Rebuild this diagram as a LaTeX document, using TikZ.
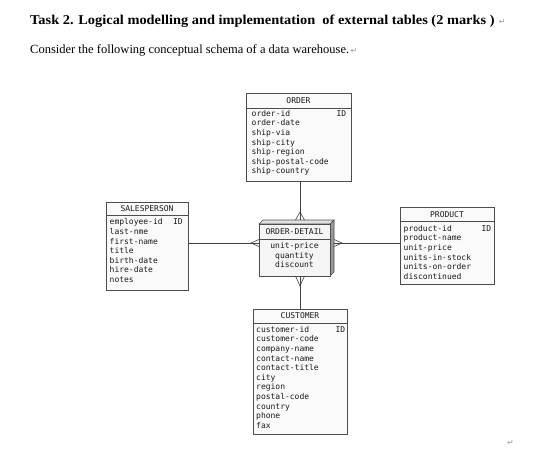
\documentclass[tikz,border=0pt]{standalone}
\usepackage{fontspec}
\setmainfont{Liberation Serif}
\newfontfamily\ermono{DejaVu Sans Mono}
\newfontfamily\ersym{DejaVu Sans}
\begin{document}
\begin{tikzpicture}[x=1pt,y=-1pt,
  entbox/.style={draw=black!70, fill=black!2, line width=0.7pt, inner sep=0pt},
  shade/.style={fill=black!45},
  hdr/.style={font=\ermono\fontsize{8}{9.5}\selectfont, inner sep=0pt, text=black!90},
  body/.style={font=\ermono\fontsize{8}{9.6}\selectfont, inner sep=0pt, align=left, anchor=north west, text=black!90},
  sep/.style={draw=black!70, line width=0.6pt},
  conn/.style={draw=black!75, line width=0.6pt},
  ret/.style={inner sep=0pt, text=black!40, font=\ersym\fontsize{8}{8}\selectfont}
]
\useasboundingbox[fill=white] (0,0) rectangle (540,453);

% titles
\node[anchor=base west, inner sep=0pt, font=\bfseries\fontsize{13.5}{15}\selectfont] (title) at (30,24)
  {\scalebox{1.065}[1]{Task 2. Logical modelling and implementation\ \ of external tables (2 marks )}};
\node[ret, anchor=base west] (titleret) at ([xshift=4pt]title.base east) {↵};
\node[anchor=base west, inner sep=0pt, font=\fontsize{12.5}{15}\selectfont] (sub) at (30,53)
  {Consider the following conceptual schema of a data warehouse.};
\node[ret, anchor=base west] (subret) at ([xshift=1pt]sub.base east) {↵};
\node[ret, anchor=base west] (endret) at (507,445) {↵};

% ORDER
\fill[shade] (247.2,94.2) rectangle (352.2,182.2);
\node[entbox, minimum width=105pt, minimum height=88pt] (order) at (298.5,137) {};
\draw[sep] (246,108) -- (351,108);
\node[hdr] (orderh) at (298.5,100.5) {ORDER};
\node[body, text width=94.5pt] (orderb) at (251.5,109.5)
  {\rule{0pt}{6.5pt}order-id\hspace{\fill}ID\\order-date\\ship-via\\ship-city\\ship-region\\ship-postal-code\\ship-country};

% SALESPERSON
\fill[shade] (107.2,203.2) rectangle (189.2,291.2);
\node[entbox, minimum width=82pt, minimum height=88pt] (sales) at (147,246) {};
\draw[sep] (106,215.5) -- (188,215.5);
\node[hdr] (salesh) at (147,209) {SALESPERSON};
\node[body, text width=73pt] (salesb) at (109.5,218.2)
  {\rule{0pt}{6.5pt}employee-id\hspace{\fill}ID\\last-nme\\first-name\\title\\birth-date\\hire-date\\notes};

% PRODUCT
\fill[shade] (401.2,208.2) rectangle (495.2,285.2);
\node[entbox, minimum width=94pt, minimum height=77pt] (product) at (447,245.5) {};
\draw[sep] (400,221.5) -- (494,221.5);
\node[hdr] (producth) at (447,214.5) {PRODUCT};
\node[body, text width=87.5pt] (productb) at (403.5,224.5)
  {\rule{0pt}{6.5pt}product-id\hspace{\fill}ID\\product-name\\unit-price\\units-in-stock\\units-on-order\\discontinued};

% CUSTOMER
\fill[shade] (254.2,310.2) rectangle (348.2,435.2);
\node[entbox, minimum width=94pt, minimum height=125pt] (customer) at (300,371.5) {};
\draw[sep] (253,323) -- (347,323);
\node[hdr] (customerh) at (300,316) {CUSTOMER};
\node[body, text width=89pt] (customerb) at (256,325.5)
  {\rule{0pt}{6.5pt}customer-id\hspace{\fill}ID\\customer-code\\company-name\\contact-name\\contact-title\\city\\region\\postal-code\\country\\phone\\fax};

% ORDER-DETAIL (3D box)
\filldraw[draw=black!70, fill=black!12, line width=0.6pt] (259,224) -- (263,220) -- (334,220) -- (330,224) -- cycle;
\filldraw[draw=black!70, fill=black!40, line width=0.6pt] (330,224) -- (334,220) -- (334,272) -- (330,276) -- cycle;
\node[entbox, fill=black!4, minimum width=71pt, minimum height=52pt] (detail) at (294.5,250) {};
\draw[sep] (259,239) -- (330,239);
\node[hdr] (detailh) at (294.5,232) {ORDER-DETAIL};
\node[body, align=center, anchor=north] (detailb) at (294.5,242)
  {\rule{0pt}{6.5pt}unit-price\\quantity\\discount};

% connector end points on ORDER-DETAIL
\coordinate (dtop) at (300,220);
\coordinate (dleft) at (259,243);
\coordinate (dright) at (334,243);
\coordinate (dbot) at (300,276);

% connectors
\draw[conn] (order.south -| dtop) -- (dtop);
\draw[conn] (sales.east |- dleft) -- (dleft);
\draw[conn] (product.west |- dright) -- (dright);
\draw[conn] (customer.north -| dbot) -- (dbot);

% crow's feet (y axis points down, so shifts are in page points)
\draw[conn] ([xshift=-4.5pt]dtop) -- ([yshift=8pt]dtop) -- ([xshift=4.5pt]dtop);
\draw[conn] ([yshift=-3.5pt]dleft) -- ([xshift=-8pt]dleft) -- ([yshift=3.5pt]dleft);
\draw[conn] ([yshift=-3.5pt]dright) -- ([xshift=8pt]dright) -- ([yshift=3.5pt]dright);
\draw[conn] ([xshift=-4.5pt]dbot) -- ([yshift=-10pt]dbot) -- ([xshift=4.5pt]dbot);
\end{tikzpicture}
\end{document}
